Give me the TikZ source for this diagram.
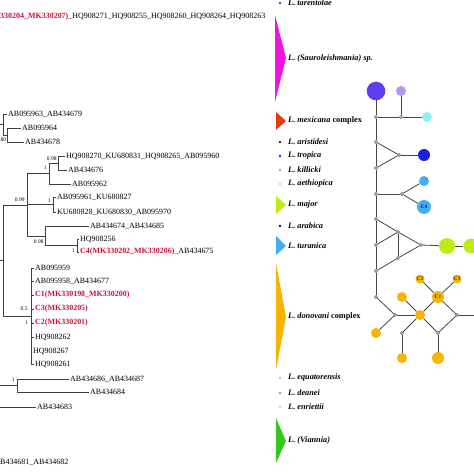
\documentclass[tikz,border=0pt]{standalone}
\usepackage{fontspec}
\setmainfont{Liberation Serif}
\usepackage{xcolor}
\usetikzlibrary{positioning}
\definecolor{cladered}{RGB}{205,20,55}
\definecolor{saurmagenta}{RGB}{240,20,220}
\definecolor{mexred}{RGB}{230,60,20}
\definecolor{majorlime}{RGB}{190,235,20}
\definecolor{turanblue}{RGB}{65,175,240}
\definecolor{donorange}{RGB}{245,180,0}
\definecolor{vianngreen}{RGB}{50,200,30}
\definecolor{tarpurple}{RGB}{120,40,200}
\definecolor{tropblue}{RGB}{30,30,220}
\definecolor{hapviolet}{RGB}{95,60,240}
\definecolor{killlav}{RGB}{180,150,240}
\definecolor{aethcyan}{RGB}{140,240,240}
\definecolor{arabnavy}{RGB}{20,20,120}
\definecolor{equagreen}{RGB}{140,220,140}
\definecolor{deanpink}{RGB}{220,120,150}
\definecolor{enripink}{RGB}{225,200,205}
\tikzset{
  leaf/.style={anchor=west,inner sep=1bp,font=\fontsize{8}{9}\selectfont},
  bootlab/.style={anchor=east,inner sep=0.3bp,font=\fontsize{5.5}{6}\selectfont},
  treeline/.style={draw=black!75,line width=0.6bp},
  legtext/.style={anchor=west,inner sep=0,font=\fontsize{8.3}{9}\selectfont\bfseries\itshape},
  legdot/.style={circle,inner sep=0,minimum size=2.6bp},
  hap/.style={circle,draw=none,inner sep=0,font=\fontsize{5.5}{6}\selectfont\bfseries,text=black!80},
  med/.style={circle,draw=black!75,fill=white,line width=0.4bp,minimum size=3bp,inner sep=0},
  netline/.style={draw=black!72,line width=0.8bp}
}
\begin{document}
\begin{tikzpicture}[x=1bp,y=-1bp]
  \useasboundingbox (0,0) rectangle (474,474);
  % tree
  \node[leaf,anchor=west,inner sep=0] (t0) at (0,17)
    {\textcolor{cladered}{\bfseries 330204\_MK330207)}\_HQ908271\_HQ908255\_HQ908260\_HQ908264\_HQ908263};
  \coordinate (r1) at (-5,124);
  \coordinate (n1) at (3,124);
  \coordinate (n2) at (7,135);
  \node[leaf] (a1) at (7,114) {AB095963\_AB434679};
  \node[leaf] (a2) at (21,128) {AB095964};
  \node[leaf] (a3) at (24,142) {AB434678};
  \draw[treeline] (r1) -- (n1);
  \draw[treeline] (n1) |- (a1.west);
  \draw[treeline] (n1) |- (n2);
  \draw[treeline] (n2) |- (a2.west);
  \draw[treeline] (n2) |- (a3.west);
  \node[bootlab] at (6.5,140) {80};

  \coordinate (r0) at (-5,260);
  \coordinate (n0) at (3,260);
  \coordinate (nb) at (27,205);
  \coordinate (n3) at (49,173.5);
  \coordinate (n4) at (58,163);
  \coordinate (n5) at (53,204.5);
  \coordinate (n6) at (45,236);
  \coordinate (n7) at (77,245.5);
  \coordinate (n8) at (31,316);
  \node[leaf] (b1) at (65,156) {HQ908270\_KU680831\_HQ908265\_AB095960};
  \node[leaf] (b2) at (67,170) {AB434676};
  \node[leaf] (b3) at (71,184) {AB095962};
  \node[leaf] (c1) at (56,197) {AB095961\_KU680827};
  \node[leaf] (c2) at (56,212) {KU680828\_KU680830\_AB095970};
  \node[leaf] (d1) at (89,226) {AB434674\_AB434685};
  \node[leaf] (e1) at (79,239) {HQ908256};
  \node[leaf] (e2) at (79,252) {\textcolor{cladered}{\bfseries C4(MK330202\_MK330206)}\_AB434675};
  \node[leaf] (f1) at (34,268) {AB095959};
  \node[leaf] (f2) at (34,281) {AB095958\_AB434677};
  \node[leaf] (f3) at (34,295) {\textcolor{cladered}{\bfseries C1(MK330198\_MK330200)}};
  \node[leaf] (f4) at (34,309) {\textcolor{cladered}{\bfseries C3(MK330205)}};
  \node[leaf] (f5) at (34,323) {\textcolor{cladered}{\bfseries C2(MK330201)}};
  \node[leaf] (f6) at (34,337) {HQ908262};
  \node[leaf] (f7) at (32,351) {HQ908267};
  \node[leaf] (f8) at (34,364) {HQ908261};
  \draw[treeline] (r0) -- (n0);
  \draw[treeline] (n0) |- (nb);
  \draw[treeline] (n0) |- (n8);
  \draw[treeline] (nb) |- (n3);
  \draw[treeline] (nb) |- (n5);
  \draw[treeline] (nb) |- (n6);
  \draw[treeline] (n3) |- (n4);
  \draw[treeline] (n3) |- (b3.west);
  \draw[treeline] (n4) |- (b1.west);
  \draw[treeline] (n4) |- (b2.west);
  \draw[treeline] (n5) |- (c1.west);
  \draw[treeline] (n5) |- (c2.west);
  \draw[treeline] (n6) |- (d1.west);
  \draw[treeline] (n6) |- (n7);
  \draw[treeline] (n7) |- (e1.west);
  \draw[treeline] (n7) |- (e2.west);
  \foreach \t in {f1,f2,f3,f4,f5,f6,f7,f8}
    \draw[treeline] (n8) |- (\t.west);
  \node[bootlab] at (57,159) {0.98};
  \node[bootlab] at (47,168) {1};
  \node[bootlab] at (25,200) {0.99};
  \node[bootlab] at (51,201) {1};
  \node[bootlab] at (44,242) {0.98};
  \node[bootlab] at (75,251) {1};
  \node[bootlab] at (28,309) {0.5};
  \node[bootlab] at (28,323) {1};

  \coordinate (r2) at (-5,385.5);
  \coordinate (n9) at (17,385.5);
  \node[leaf] (g1) at (69,379) {AB434686\_AB434687};
  \node[leaf] (g2) at (89,392) {AB434684};
  \draw[treeline] (r2) -- (n9);
  \draw[treeline] (n9) |- (g1.west);
  \draw[treeline] (n9) |- (g2.west);
  \node[bootlab] at (15,380) {1};
  \coordinate (r3) at (-5,407);
  \node[leaf] (h1) at (36,407) {AB434683};
  \draw[treeline] (r3) -- (h1.west);
  \node[leaf,inner sep=0] (i1) at (0,462) {B434681\_AB434682};

  % collapsed clades and species
  \fill[saurmagenta] (275,15) -- (286,58) -- (275,102) -- cycle;
  \fill[mexred] (276,112) -- (286,121) -- (276,130) -- cycle;
  \fill[majorlime] (276,196) -- (286,205) -- (276,214) -- cycle;
  \fill[turanblue] (276,236) -- (286,246) -- (276,255) -- cycle;
  \fill[donorange] (276,263) -- (286,317) -- (276,370) -- cycle;
  \fill[vianngreen] (276,418) -- (286,441) -- (276,463) -- cycle;
  \node[legdot,fill=tarpurple] (dtar) at (280,3) {};
  \node[legdot,fill=black!85] (dari) at (280,142) {};
  \node[legdot,fill=tropblue] (dtro) at (280,156) {};
  \node[legdot,fill=killlav] (dkil) at (280,170) {};
  \node[legdot,fill=aethcyan] (daet) at (280,184) {};
  \node[legdot,fill=arabnavy] (dara) at (280,226) {};
  \node[legdot,fill=equagreen] (dequ) at (280,378) {};
  \node[legdot,fill=deanpink] (ddea) at (280,393) {};
  \node[legdot,fill=enripink] (denr) at (280,407) {};
  \node[legtext] (ltar) at (288,3) {L. tarentolae};
  \node[legtext] (lsau) at (288,59) {L. (Sauroleishmania) sp.};
  \node[legtext] (lmex) at (288,121) {L. mexicana \upshape complex};
  \node[legtext] (lari) at (288,142) {L. aristidesi};
  \node[legtext] (ltro) at (288,156) {L. tropica};
  \node[legtext] (lkil) at (288,170) {L. killicki};
  \node[legtext] (laet) at (288,184) {L. aethiopica};
  \node[legtext] (lmaj) at (288,205) {L. major};
  \node[legtext] (lara) at (288,226) {L. arabica};
  \node[legtext] (ltur) at (288,246) {L. turanica};
  \node[legtext] (ldon) at (288,317) {L. donovani \upshape complex};
  \node[legtext] (lequ) at (288,378) {L. equatorensis};
  \node[legtext] (ldea) at (288,393) {L. deanei};
  \node[legtext] (lenr) at (288,407) {L. enriettii};
  \node[legtext] (lvia) at (288,441) {L. (Viannia)};

  % haplotype network
  \node[hap,fill=hapviolet,minimum size=18.6bp] (hv) at (376,91) {};
  \node[hap,fill=killlav,minimum size=10bp] (hk) at (401,91) {};
  \node[hap,fill=aethcyan,minimum size=10bp] (ha) at (427,117) {};
  \node[hap,fill=tropblue,minimum size=12bp] (ht) at (424,155) {};
  \node[hap,fill=turanblue,minimum size=10bp] (hu) at (424,181) {};
  \node[hap,fill=turanblue,minimum size=14bp,text=arabnavy] (hc4) at (424,207) {C4};
  \node[hap,fill=majorlime,minimum size=16bp] (hm1) at (447,246) {};
  \node[hap,fill=majorlime,minimum size=15bp] (hm2) at (471,246) {};
  \node[hap,fill=donorange,minimum size=10bp] (ho1) at (376,333) {};
  \node[hap,fill=donorange,minimum size=10bp] (hoi) at (420,315) {};
  \node[hap,fill=donorange,minimum size=10bp] (ho2) at (402,297) {};
  \node[hap,fill=donorange,minimum size=12bp] (hc1) at (438,297) {C1};
  \node[hap,fill=donorange,minimum size=9bp] (hc2) at (420,279) {C2};
  \node[hap,fill=donorange,minimum size=9bp] (hc3) at (457,279) {C3};
  \node[hap,fill=donorange,minimum size=10bp] (ho3) at (402,358) {};
  \node[hap,fill=donorange,minimum size=12bp] (ho4) at (438,358) {};
  \node[med] (j1) at (376,117) {};
  \node[med] (j2) at (401,117) {};
  \node[med] (k1) at (376,142) {};
  \node[med] (k2) at (376,168) {};
  \node[med] (k3) at (399,155) {};
  \node[med] (l1) at (376,194) {};
  \node[med] (l2) at (402,194) {};
  \node[med] (ma) at (376,219) {};
  \node[med] (mb) at (398,232) {};
  \node[med] (mc) at (421,245) {};
  \node[med] (md) at (376,245) {};
  \node[med] (me) at (398,258) {};
  \node[med] (mf) at (376,271) {};
  \node[med] (mg) at (376,297) {};
  \node[med] (mh) at (395,315) {};
  \node[med] (mi) at (402,333) {};
  \node[med] (mj) at (438,333) {};
  \node[med] (mk) at (457,315) {};
  \coordinate (mout) at (478,315);
  \draw[netline] (hv) -- (j1);
  \draw[netline] (hk) -- (j2);
  \draw[netline] (j1) -- (j2);
  \draw[netline] (j2) -- (ha);
  \draw[netline] (j1) -- (k1);
  \draw[netline] (k1) -- (k2);
  \draw[netline] (k1) -- (k3);
  \draw[netline] (k2) -- (k3);
  \draw[netline] (k3) -- (ht);
  \draw[netline] (k2) -- (l1);
  \draw[netline] (l1) -- (l2);
  \draw[netline] (l2) -- (hu);
  \draw[netline] (l2) -- (hc4);
  \draw[netline] (l1) -- (ma);
  \draw[netline] (ma) -- (md);
  \draw[netline] (ma) -- (mb);
  \draw[netline] (mb) -- (mc);
  \draw[netline] (md) -- (mb);
  \draw[netline] (mb) -- (me);
  \draw[netline] (me) -- (mc);
  \draw[netline] (md) -- (mf);
  \draw[netline] (me) -- (mf);
  \draw[netline] (mc) -- (hm1);
  \draw[netline] (hm1) -- (hm2);
  \draw[netline] (mf) -- (mg);
  \draw[netline] (mg) -- (mh);
  \draw[netline] (mh) -- (ho1);
  \draw[netline] (mh) -- (hoi);
  \draw[netline] (hoi) -- (ho2);
  \draw[netline] (hoi) -- (hc1);
  \draw[netline] (hoi) -- (mi);
  \draw[netline] (hoi) -- (mj);
  \draw[netline] (mi) -- (ho3);
  \draw[netline] (mj) -- (ho4);
  \draw[netline] (hc1) -- (hc2);
  \draw[netline] (hc1) -- (hc3);
  \draw[netline] (hc1) -- (mk);
  \draw[netline] (mk) -- (mj);
  \draw[netline] (mk) -- (mout);
\end{tikzpicture}
\end{document}
